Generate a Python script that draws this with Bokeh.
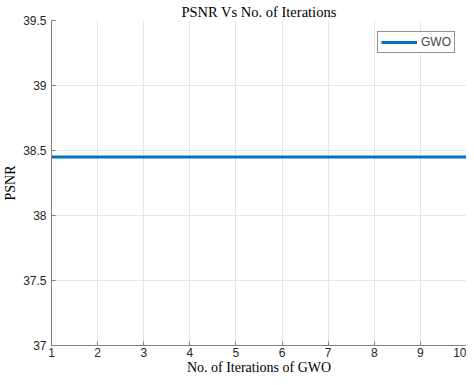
from bokeh.plotting import figure
from bokeh.models import Range1d, FixedTicker, Legend, LegendItem
from bokeh.embed import file_html
from bokeh.resources import INLINE

iterations = [1, 2, 3, 4, 5, 6, 7, 8, 9, 10]
psnr_gwo = [38.45, 38.45, 38.45, 38.45, 38.45, 38.45, 38.45, 38.45, 38.45, 38.45]
x_ticks = [1, 2, 3, 4, 5, 6, 7, 8, 9, 10]
y_ticks = [37, 37.5, 38, 38.5, 39, 39.5]
y_tick_labels = ["37", "37.5", "38", "38.5", "39", "39.5"]

p = figure(width=466, height=377, output_backend="svg", toolbar_location=None,
           x_range=Range1d(1, 10), y_range=Range1d(37, 39.5),
           min_border_left=43, min_border_right=0, min_border_top=0, min_border_bottom=0)

p.title.text = "PSNR Vs No. of Iterations"
p.title.align = "center"
p.title.text_font = "Liberation Serif"
p.title.text_font_size = "14.5px"
p.title.text_font_style = "normal"
p.title.text_color = "#000000"
p.title.standoff = 2
p.title.offset = 0

r = p.line(iterations, psnr_gwo, line_color="#0072BD", line_width=3)

p.outline_line_color = None
p.background_fill_color = "white"

for ax in (p.xaxis, p.yaxis):
    ax.axis_line_color = "#808080"
    ax.axis_line_width = 1
    ax.major_tick_line_color = "#808080"
    ax.major_tick_in = 4
    ax.major_tick_out = 0
    ax.minor_tick_line_color = None
    ax.major_label_text_font = "Liberation Sans"
    ax.major_label_text_font_size = "12px"
    ax.major_label_text_color = "#262626"
    ax.axis_label_text_font = "Liberation Serif"
    ax.axis_label_text_font_size = "14px"
    ax.axis_label_text_font_style = "normal"
    ax.axis_label_text_color = "#000000"

p.xaxis.ticker = FixedTicker(ticks=x_ticks)
p.yaxis.ticker = FixedTicker(ticks=y_ticks)
p.yaxis.major_label_overrides = {t: s for t, s in zip(y_ticks, y_tick_labels)}
p.xaxis.axis_label = "No. of Iterations of GWO"
p.yaxis.axis_label = "PSNR"
p.yaxis.major_label_standoff = 5
p.yaxis.axis_label_standoff = 2
p.xaxis.major_label_standoff = 2
p.xaxis.axis_label_standoff = 0

p.xgrid.grid_line_color = "#e6e6e6"
p.ygrid.grid_line_color = "#e6e6e6"

legend = Legend(items=[LegendItem(label="GWO", renderers=[r])], location="top_right")
legend.margin = 11
legend.padding = 3
legend.spacing = 0
legend.glyph_width = 36
legend.glyph_height = 12
legend.label_standoff = 4
legend.label_text_font = "Liberation Sans"
legend.label_text_font_size = "12px"
legend.label_height = 12
legend.border_line_color = "#262626"
legend.border_line_width = 1
legend.background_fill_alpha = 1
p.add_layout(legend, "center")

open("out.html", "w").write(file_html(p, INLINE))
